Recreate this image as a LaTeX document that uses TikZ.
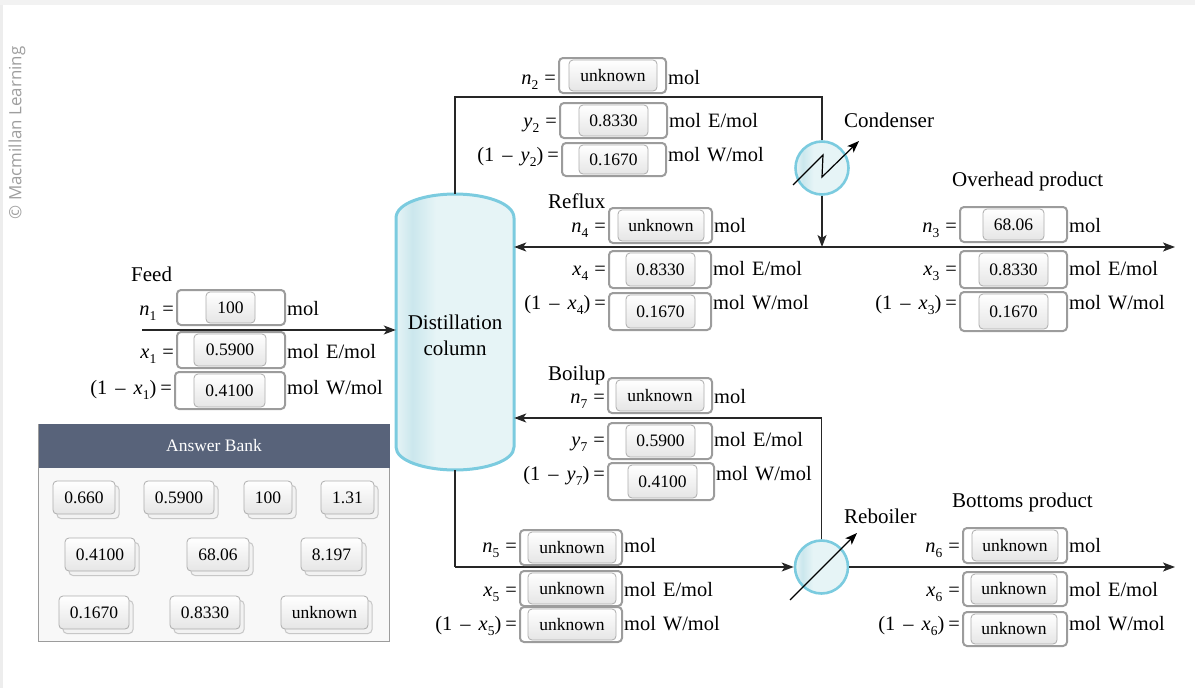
\documentclass[tikz,border=0pt]{standalone}
\usepackage{fontspec}
\setmainfont{Liberation Serif}
\newfontfamily\wmfont{Open Sans}
\usetikzlibrary{arrows.meta,positioning}

\definecolor{vessel}{HTML}{7BCBDF}
\definecolor{vesselfill}{HTML}{E6F4F6}
\definecolor{vesselband}{HTML}{CBE7ED}
\definecolor{boxgray}{HTML}{9C9C9C}
\definecolor{chipgray}{HTML}{ADADAD}
\definecolor{bankhead}{HTML}{58637A}
\definecolor{bankbody}{HTML}{F8F8F8}

\pgfdeclarehorizontalshading{vesselshade}{100bp}{
  color(0bp)=(vesselfill); color(25bp)=(vesselfill); color(32bp)=(vesselband);
  color(42bp)=(vesselfill); color(100bp)=(vesselfill)}

\newcommand{\mainsize}{\fontsize{20.4}{24}\selectfont}
\newcommand{\titlesize}{\fontsize{21}{25}\selectfont}
\newcommand{\chipsize}{\fontsize{17.5}{20}\selectfont}
\newcommand{\vlab}[2]{\textit{#1}\raisebox{-0.6ex}{\fontsize{13.5}{13.5}\selectfont #2}\hspace{6pt}=}
\newcommand{\olab}[2]{(1\hspace{3pt} --\hspace{3pt} \textit{#1}\raisebox{-0.6ex}{\fontsize{13.5}{13.5}\selectfont #2})\hspace{4pt}=}
\newcommand{\molE}{mol\hspace{2pt} E/mol}
\newcommand{\molW}{mol\hspace{2pt} W/mol}

\tikzset{
  flow/.style={line width=1.3pt,draw=black!85,-{Stealth[length=12pt,width=9pt,inset=3pt]}},
  pipe/.style={line width=1.3pt,draw=black!85},
  heat/.style={line width=1.2pt,-{Stealth[length=12pt,width=9pt,inset=3pt]}},
  vesselnode/.style={circle,draw=vessel,line width=2.6pt,shading=vesselshade,minimum size=53pt,inner sep=0pt},
  ansbox/.style={draw=boxgray,line width=2pt,rounded corners=4pt,fill=white,inner sep=0pt},
  chip/.style={draw=chipgray,line width=.8pt,rounded corners=4pt,top color=white,bottom color=black!10,inner sep=0pt,font=\chipsize},
  chipback/.style={draw=black!22,line width=1pt,rounded corners=4pt,fill=black!5,inner sep=0pt},
  lab/.style={font=\mainsize,inner sep=0pt},
  title/.style={font=\titlesize,inner sep=0pt,anchor=base west},
}

\begin{document}
\begin{tikzpicture}[x=1pt,y=-1pt]
  \useasboundingbox (0,0) rectangle (1195,688);
  \fill[black!5] (0,0) rectangle (1195,5);
  \fill[black!7] (0,5) rectangle (3,688);

  \node[rotate=90,text=black!38,inner sep=0pt,font=\wmfont\fontsize{16.9}{18}\selectfont] (credit) at (17,133) {© Macmillan Learning};

  % vessels
  \path[draw=vessel,line width=3pt,shading=vesselshade]
    (396,218) .. controls (396,203) and (425,194) .. (455,194)
    .. controls (485,194) and (514,203) .. (514,218) -- (514,447)
    .. controls (514,461) and (485,470) .. (455,470)
    .. controls (425,470) and (396,461) .. (396,447) -- cycle;
  \node[minimum width=118pt,minimum height=276pt,inner sep=0pt] (col) at (455,332) {};
  \node[align=center,inner sep=0pt,font=\titlesize] (coltext) at (455,335) {Distillation\\[1pt]column};
  \node[vesselnode] (cond) at (822,168) {};
  \node[vesselnode] (reb) at (821.5,567) {};

  \coordinate (topleft) at (455,97);
  \coordinate (topright) at (822,97);
  \coordinate (refluxj) at (822,247);
  \coordinate (overhead) at (1175,247);
  \coordinate (feedin) at (142,330);
  \coordinate (boilj) at (821.5,418);
  \coordinate (botleft) at (455,567);
  \coordinate (bottoms) at (1175,567);

  \draw[pipe] (col.north) -- (topleft) -- (topright) -- (cond.north);
  \draw[flow] (cond.south) -- (refluxj);
  \draw[flow] (refluxj) -- (col.east |- refluxj);
  \draw[flow] (refluxj) -- (overhead);
  \draw[flow] (feedin) -- (col.west |- feedin);
  \draw[pipe] (reb.north) -- (boilj);
  \draw[flow] (boilj) -- (col.east |- boilj);
  \draw[pipe] (col.south) -- (botleft);
  \draw[flow] (botleft) -- (reb.west);
  \draw[flow] (reb.east) -- (bottoms);

  % heat arrows
  \coordinate (condin) at (793,185);
  \coordinate (condz1) at (823,155);
  \coordinate (condz2) at (822,177);
  \coordinate (condout) at (859,141);
  \draw[heat] (condin) -- (condz1) -- (condz2) -- (condout);
  \coordinate (rebin) at (790,600);
  \coordinate (rebout) at (857,533);
  \draw[heat] (rebin) -- (rebout);

  % stream boxes
  \foreach \nm/\xa/\xb/\ya/\yb/\ca/\cb/\val/\bl/\lbl/\unt in {
    ntwo/559/666/58/93/569/657/unknown/84/\vlab{n}{2}/mol,
    ytwo/560/667/103/138/579/648/0.8330/127/\vlab{y}{2}/\molE,
    ztwo/562/666/143/176/579/648/0.1670/161/\olab{y}{2}/\molW,
    nfour/609/712/208/243/618/704/unknown/232/\vlab{n}{4}/mol,
    xfour/609/711/251/288/626/695/0.8330/275/\vlab{x}{4}/\molE,
    zfour/609/711/293/330/626/695/0.1670/309/\olab{x}{4}/\molW,
    nthree/960/1067/207/242/983/1044/68.06/232/\vlab{n}{3}/mol,
    xthree/960/1067/251/288/979/1048/0.8330/275/\vlab{x}{3}/\molE,
    zthree/960/1067/292/331/979/1048/0.1670/309/\olab{x}{3}/\molW,
    none/177/285/290/325/206/255/100/315/\vlab{n}{1}/mol,
    xone/177/285/332/368/194/266/0.5900/358/\vlab{x}{1}/\molE,
    zone/175/285/372/409/194/265/0.4100/394/\olab{x}{1}/\molW,
    nseven/608/712/378/413/616/704/unknown/403/\vlab{n}{7}/mol,
    yseven/608/712/423/459/626/695/0.5900/446/\vlab{y}{7}/\molE,
    zseven/608/714/463/500/628/697/0.4100/480/\olab{y}{7}/\molW,
    nfive/520/622/530/565/528/616/unknown/552/\vlab{n}{5}/mol,
    xfive/520/622/571/606/528/616/unknown/596/\vlab{x}{5}/\molE,
    zfive/520/622/607/642/528/616/unknown/630/\olab{x}{5}/\molW,
    nsix/963/1067/528/563/972/1058/unknown/552/\vlab{n}{6}/mol,
    xsix/963/1067/572/606/971/1057/unknown/596/\vlab{x}{6}/\molE,
    zsix/963/1067/612/646/971/1057/unknown/630/\olab{x}{6}/\molW}
  {
    \node[ansbox,minimum width={(\xb-\xa)*1pt},minimum height={(\yb-\ya)*1pt}] (box\nm) at ({(\xa+\xb)/2},{(\ya+\yb)/2}) {};
    \node[chip,minimum width={(\cb-\ca)*1pt},minimum height={(\yb-\ya-4)*1pt}] (chip\nm) at ({(\ca+\cb)/2},{(\ya+\yb)/2}) {\val};
    \node[lab,anchor=base east] (lab\nm) at (\xa-3,\bl) {\lbl};
    \node[lab,anchor=base west] (unit\nm) at (\xb+2,\bl) {\unt};
  }

  % stream titles
  \node[title] (feed) at (131,281) {Feed};
  \node[title] (reflux) at (548,208) {Reflux};
  \node[title] (boilup) at (548,380) {Boilup};
  \node[title] (condenser) at (844,127) {Condenser};
  \node[title] (overheadlab) at (952,186) {Overhead product};
  \node[title] (bottomslab) at (952,507) {Bottoms product};
  \node[title] (reboiler) at (844,523) {Reboiler};

  % answer bank
  \node[draw=boxgray,fill=bankbody,line width=.8pt,minimum width=351pt,minimum height=217pt,inner sep=0pt] (bank) at (214,532.5) {};
  \node[fill=bankhead,minimum width=351pt,minimum height=44pt,inner sep=0pt,text=white,font=\chipsize] (bankhd) at (214,446) {Answer Bank};
  \foreach \val/\xa/\xb/\ya [count=\k] in {
    0.660/53/115/481, 0.5900/144/214/481, 100/244/292/481, 1.31/321/374/481,
    0.4100/65/135/538, 68.06/187/249/538, 8.197/301/362/538,
    0.1670/59/129/596, 0.8330/170/240/596, unknown/281/368/596}
  {
    \node[chipback,minimum width={(\xb-\xa)*1pt},minimum height=33pt] (bankb\k) at ({(\xa+\xb)/2+4},\ya+21) {};
    \node[chip,minimum width={(\xb-\xa)*1pt},minimum height=33pt] (bankc\k) at ({(\xa+\xb)/2},\ya+16.5) {\val};
  }
\end{tikzpicture}
\end{document}
